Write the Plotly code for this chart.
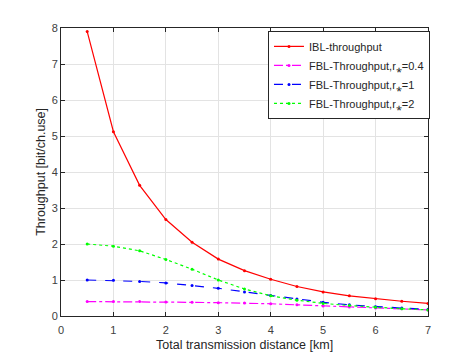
import plotly.graph_objects as go

distance = [0.5, 1, 1.5, 2, 2.5, 3, 3.5, 4, 4.5, 5, 5.5, 6, 6.5, 7]
ibl = [7.9, 5.12, 3.63, 2.68, 2.05, 1.58, 1.26, 1.02, 0.82, 0.67, 0.56, 0.48, 0.41, 0.35]
fbl_04 = [0.40, 0.40, 0.40, 0.39, 0.38, 0.37, 0.36, 0.34, 0.31, 0.28, 0.25, 0.22, 0.20, 0.17]
fbl_1 = [1.0, 0.99, 0.96, 0.92, 0.85, 0.77, 0.67, 0.57, 0.47, 0.38, 0.31, 0.26, 0.22, 0.19]
fbl_2 = [2.0, 1.94, 1.81, 1.57, 1.30, 1.0, 0.75, 0.56, 0.44, 0.35, 0.29, 0.24, 0.20, 0.17]

names = ["IBL-throughput",
         "FBL-Throughput,r\u204e=0.4",
         "FBL-Throughput,r\u204e=1",
         "FBL-Throughput,r\u204e=2"]
colors = ["#ff0000", "#ff00ff", "#0000ff", "#00ff00"]
dashes = ["solid", "dashdot", "dash", "dot"]
x_title = "Total transmission distance [km]"
y_title = "Throughput [bit/ch.use]"

fig = go.Figure()
for y, n, c, d in zip([ibl, fbl_04, fbl_1, fbl_2], names, colors, dashes):
    fig.add_trace(go.Scatter(x=distance, y=y, name=n, mode="lines+markers",
                             line=dict(color=c, width=1.2, dash=d),
                             marker=dict(color=c, size=3)))

axis_common = dict(showgrid=True, gridcolor="#e3e3e3", gridwidth=1,
                   showline=True, linecolor="#262626", linewidth=1, mirror="ticks",
                   ticks="inside", ticklen=4, tickcolor="#262626", zeroline=False,
                   automargin=False,
                   tickfont=dict(size=11, color="#404040"))

fig.update_layout(
    width=474, height=357,
    margin=dict(l=53, r=54, t=20, b=49),
    paper_bgcolor="white", plot_bgcolor="white",
    font=dict(family="Liberation Sans, Arial, sans-serif", size=11, color="#262626"),
    showlegend=True,
    legend=dict(x=0.564, y=0.99, xanchor="left", yanchor="top",
                bgcolor="white", bordercolor="#262626", borderwidth=1,
                font=dict(size=11, color="#262626"), tracegroupgap=0, itemwidth=30),
    annotations=[
        dict(text=x_title, xref="paper", yref="paper", x=0.5, y=-0.1,
             xanchor="center", yanchor="middle", showarrow=False,
             font=dict(size=12.5, color="#262626")),
        dict(text=y_title, xref="paper", yref="paper", x=-0.055, y=0.5,
             xanchor="center", yanchor="middle", showarrow=False, textangle=-90,
             font=dict(size=12.5, color="#262626")),
    ],
)
fig.update_xaxes(range=[0, 7], dtick=1, ticklabelstandoff=4, **axis_common)
fig.update_yaxes(range=[0, 8], dtick=1, **axis_common)

fig.write_html("out.html")
